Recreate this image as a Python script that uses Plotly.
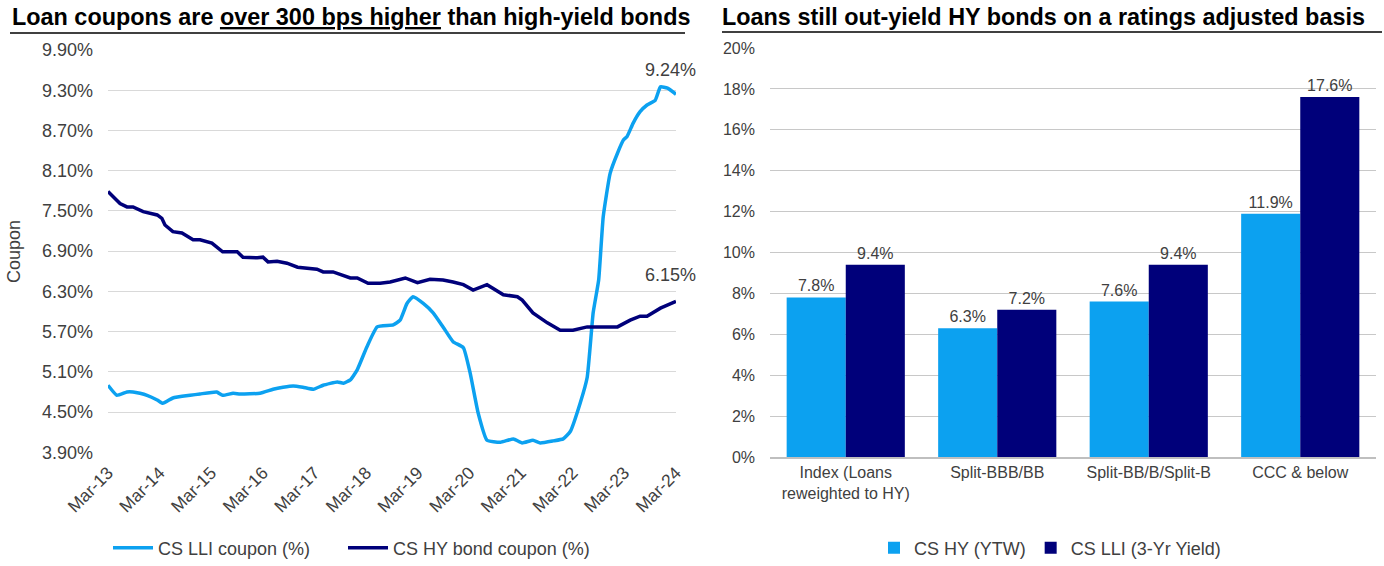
import plotly.graph_objects as go

W, H = 1384, 566

# ---------------- Left chart data ----------------
hy_dates = ["2013-03-01", "2013-05-25", "2013-07-13", "2013-08-25", "2013-11-05", "2014-02-12",
            "2014-03-17", "2014-04-08", "2014-06-03", "2014-08-06", "2014-10-24", "2014-12-12",
            "2015-03-06", "2015-05-21", "2015-09-01", "2015-10-12", "2016-01-21", "2016-03-01",
            "2016-04-06", "2016-06-09", "2016-08-18", "2016-11-01", "2017-03-18", "2017-05-01",
            "2017-07-10", "2017-11-09", "2017-12-28", "2018-03-15", "2018-06-08", "2018-08-18",
            "2018-12-03", "2019-02-27", "2019-05-27", "2019-08-27", "2019-11-06", "2020-01-18",
            "2020-03-27", "2020-07-03", "2020-10-27", "2021-02-03", "2021-03-09", "2021-05-24",
            "2021-09-03", "2021-12-03", "2022-03-03", "2022-06-12", "2022-11-01", "2023-01-12",
            "2023-04-12", "2023-06-21", "2023-08-09", "2023-11-12", "2024-03-01"]
hy_coupon = [7.79, 7.61, 7.56, 7.56, 7.49, 7.44,
             7.39, 7.29, 7.19, 7.17, 7.07, 7.07,
             7.02, 6.89, 6.89, 6.81, 6.80, 6.81,
             6.74, 6.75, 6.72, 6.66, 6.63, 6.59,
             6.59, 6.50, 6.50, 6.42, 6.42, 6.44,
             6.50, 6.43, 6.48, 6.47, 6.44, 6.40,
             6.32, 6.40, 6.25, 6.22, 6.17, 5.98,
             5.83, 5.72, 5.72, 5.77, 5.77, 5.77,
             5.87, 5.93, 5.93, 6.05, 6.15]

lli_dates = ["2013-03-01", "2013-05-03", "2013-07-13", "2013-08-25", "2013-10-13", "2013-12-02",
             "2014-02-12", "2014-03-24", "2014-06-03", "2014-10-03", "2014-12-12", "2015-04-09",
             "2015-05-21", "2015-08-03", "2015-09-21", "2016-02-09", "2016-05-12", "2016-07-21",
             "2016-10-01", "2016-12-09", "2017-02-21", "2017-05-01", "2017-08-09", "2017-09-21",
             "2017-11-09", "2017-12-28", "2018-03-06", "2018-05-18", "2018-09-09", "2018-10-27",
             "2018-12-15", "2019-01-27", "2019-04-09", "2019-06-18", "2019-08-27", "2019-11-06",
             "2020-01-18", "2020-03-06", "2020-05-01", "2020-07-03", "2020-10-06", "2021-01-06",
             "2021-03-09", "2021-05-24", "2021-07-15", "2021-10-15", "2021-12-24", "2022-02-12",
             "2022-04-24", "2022-06-12", "2022-07-24", "2022-09-01", "2022-10-03", "2022-11-21",
             "2023-01-12", "2023-02-24", "2023-03-21", "2023-05-03", "2023-06-21", "2023-08-09",
             "2023-10-06", "2023-11-12", "2024-01-01", "2024-03-01"]
lli_coupon = [4.90, 4.75, 4.80, 4.80, 4.78, 4.75,
              4.68, 4.63, 4.71, 4.75, 4.77, 4.80,
              4.75, 4.78, 4.77, 4.78, 4.84, 4.87,
              4.89, 4.87, 4.84, 4.90, 4.95, 4.93,
              4.98, 5.13, 5.47, 5.77, 5.80, 5.87,
              6.12, 6.22, 6.12, 5.98, 5.77, 5.55,
              5.46, 5.08, 4.49, 4.08, 4.05, 4.10,
              4.04, 4.08, 4.04, 4.07, 4.10, 4.21,
              4.64, 5.02, 5.98, 6.47, 7.41, 8.06,
              8.36, 8.56, 8.61, 8.81, 8.98, 9.08,
              9.15, 9.35, 9.33, 9.24]

left_ytick_vals = [3.90, 4.50, 5.10, 5.70, 6.30, 6.90, 7.50, 8.10, 8.70, 9.30, 9.90]
left_xtick_dates = ["2013-03-01", "2014-03-01", "2015-03-01", "2016-03-01", "2017-03-01", "2018-03-01",
                    "2019-03-01", "2020-03-01", "2021-03-01", "2022-03-01", "2023-03-01", "2024-03-01"]
left_xtick_text = ["Mar-13", "Mar-14", "Mar-15", "Mar-16", "Mar-17", "Mar-18",
                   "Mar-19", "Mar-20", "Mar-21", "Mar-22", "Mar-23", "Mar-24"]

# ---------------- Right chart data ----------------
categories = ["Index (Loans<br>reweighted to HY)", "Split-BBB/BB", "Split-BB/B/Split-B", "CCC & below"]
cs_hy_ytw = [7.8, 6.3, 7.6, 11.9]
cs_lli_3yr = [9.4, 7.2, 9.4, 17.6]
right_ytick_vals = [0, 2, 4, 6, 8, 10, 12, 14, 16, 18, 20]

LIGHT = "#0CA1F0"
NAVY = "#00007A"
TXT = "#404040"
FONT = "Liberation Sans, Arial, sans-serif"

def px(x):
    return x / W

def py(y):
    return (H - y) / H

fig = go.Figure()

fig.add_trace(go.Scatter(x=lli_dates, y=lli_coupon, mode="lines", name="CS LLI coupon (%)",
                         line=dict(color=LIGHT, width=3.5, shape="spline", smoothing=0.4),
                         xaxis="x", yaxis="y", legend="legend"))
fig.add_trace(go.Scatter(x=hy_dates, y=hy_coupon, mode="lines", name="CS HY bond coupon (%)",
                         line=dict(color=NAVY, width=3.5),
                         xaxis="x", yaxis="y", legend="legend3"))

fig.add_trace(go.Bar(x=categories, y=cs_hy_ytw, name="CS HY (YTW)", marker=dict(color=LIGHT, line=dict(width=0)),
                     texttemplate="%{y:.1f}%", textposition="outside", cliponaxis=False,
                     textfont=dict(size=16, color=TXT, family=FONT),
                     xaxis="x2", yaxis="y2", legend="legend2"))
fig.add_trace(go.Bar(x=categories, y=cs_lli_3yr, name="CS LLI (3-Yr Yield)", marker=dict(color=NAVY, line=dict(width=0)),
                     texttemplate="%{y:.1f}%", textposition="outside", cliponaxis=False,
                     textfont=dict(size=16, color=TXT, family=FONT),
                     xaxis="x2", yaxis="y2", legend="legend2"))

annotations = [
    dict(text="Loan coupons are <span style='text-decoration:underline'>over 300 bps higher</span> than high-yield bonds",
         x=px(10), y=py(17), xref="paper", yref="paper", xanchor="left", yanchor="middle",
         showarrow=False, font=dict(size=23.4, color="#000000", family=FONT, weight="bold")),
    dict(text="Loans still out-yield HY bonds on a ratings adjusted basis",
         x=px(720), y=py(17), xref="paper", yref="paper", xanchor="left", yanchor="middle",
         showarrow=False, font=dict(size=23.4, color="#000000", family=FONT, weight="bold")),
    dict(text="Coupon", x=px(14), y=py(252), xref="paper", yref="paper", textangle=-90,
         xanchor="center", yanchor="middle", showarrow=False, font=dict(size=18, color=TXT, family=FONT)),
    dict(text=f"{lli_coupon[-1]:.2f}%", x=lli_dates[-1], y=lli_coupon[-1], xref="x", yref="y",
         xanchor="right", xshift=22, yshift=24, yanchor="middle", showarrow=False,
         font=dict(size=18, color=TXT, family=FONT)),
    dict(text=f"{hy_coupon[-1]:.2f}%", x=hy_dates[-1], y=hy_coupon[-1], xref="x", yref="y",
         xanchor="right", xshift=22, yshift=26, yanchor="middle", showarrow=False,
         font=dict(size=18, color=TXT, family=FONT)),
]

shapes = [
    dict(type="line", xref="paper", yref="paper", x0=px(10), x1=px(685), y0=py(33), y1=py(33),
         line=dict(color="#404040", width=2)),
    dict(type="line", xref="paper", yref="paper", x0=px(722), x1=px(1382), y0=py(32), y1=py(32),
         line=dict(color="#404040", width=2)),
]

fig.update_layout(
    width=W, height=H,
    margin=dict(l=0, r=0, t=0, b=0, autoexpand=False),
    paper_bgcolor="white", plot_bgcolor="white",
    font=dict(family=FONT, color=TXT, size=16),
    bargap=0.22, bargroupgap=0.0, barmode="group",
    xaxis=dict(domain=[px(108), px(676)], type="date",
               range=["2013-03-01", "2024-03-01"],
               tickvals=left_xtick_dates, ticktext=left_xtick_text, tickangle=-45,
               tickfont=dict(size=17.5, color=TXT, family=FONT), automargin=False,
               ticklabelstandoff=6,
               showgrid=False, showline=False, zeroline=False, ticks="", anchor="y"),
    yaxis=dict(domain=[py(452.3), py(50)], range=[3.90, 9.90],
               tickvals=left_ytick_vals, ticktext=[f"{v:.2f}%" for v in left_ytick_vals],
               tickfont=dict(size=18, color=TXT, family=FONT), automargin=False,
               showgrid=True, gridcolor="#D9D9D9", gridwidth=1, zeroline=False,
               showline=False, ticks="", ticklabelstandoff=14, anchor="x"),
    xaxis2=dict(domain=[px(770), px(1376)], tickfont=dict(size=16, color=TXT, family=FONT),
                showgrid=False, showline=True, linecolor="#BFBFBF", linewidth=2, automargin=False,
                ticks="", zeroline=False, anchor="y2"),
    yaxis2=dict(domain=[py(457), py(48)], range=[0, 20],
                tickvals=right_ytick_vals, ticktext=[f"{v}%" for v in right_ytick_vals],
                tickfont=dict(size=16, color=TXT, family=FONT), automargin=False,
                showgrid=True, gridcolor="#C8C8C8", gridwidth=1, zeroline=False,
                showline=False, ticks="", ticklabelstandoff=14, anchor="x2"),
    legend=dict(orientation="h", x=px(108), xanchor="left", y=py(548), yanchor="middle",
                font=dict(size=18, color=TXT, family=FONT), bgcolor="rgba(0,0,0,0)",
                itemwidth=40),
    legend3=dict(orientation="h", x=px(343), xanchor="left", y=py(548), yanchor="middle",
                 font=dict(size=18, color=TXT, family=FONT), bgcolor="rgba(0,0,0,0)",
                 itemwidth=40),
    legend2=dict(orientation="h", x=px(1050), xanchor="center", y=py(548), yanchor="middle",
                 font=dict(size=18, color=TXT, family=FONT), bgcolor="rgba(0,0,0,0)",
                 itemwidth=30),
    annotations=annotations,
    shapes=shapes,
    showlegend=True,
)

fig.write_html("out.html")
